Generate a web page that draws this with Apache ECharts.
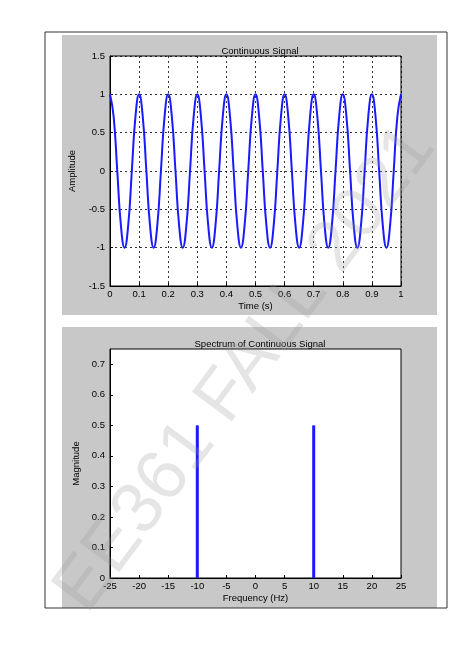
<!DOCTYPE html>
<html><head><meta charset="utf-8">
<script src="https://cdn.jsdelivr.net/npm/echarts@6/dist/echarts.min.js"></script>
<style>html,body{margin:0;padding:0;background:#fff}#c{width:474px;height:655px}</style>
</head><body><div id="c"></div>
<script>
// 时间 0..1 s，步长 0.0125 s
var timeStep = 0.0125;
var amplitude = [
 1,0.71,0,-0.71,-1,-0.71,0,0.71, 1,0.71,0,-0.71,-1,-0.71,0,0.71,
 1,0.71,0,-0.71,-1,-0.71,0,0.71, 1,0.71,0,-0.71,-1,-0.71,0,0.71,
 1,0.71,0,-0.71,-1,-0.71,0,0.71, 1,0.71,0,-0.71,-1,-0.71,0,0.71,
 1,0.71,0,-0.71,-1,-0.71,0,0.71, 1,0.71,0,-0.71,-1,-0.71,0,0.71,
 1,0.71,0,-0.71,-1,-0.71,0,0.71, 1,0.71,0,-0.71,-1,-0.71,0,0.71,
 1
];
var specFreq = [-10, 10];
var specMag = [0.5, 0.5];

var timeData = amplitude.map(function (v, i) { return [+(i * timeStep).toFixed(4), v]; });
var specData = specFreq.map(function (f, i) { return [f, specMag[i]]; });

var chart = echarts.init(document.getElementById('c'));
var axisTxt = {color: '#000', fontSize: 9.5, fontFamily: 'Liberation Sans'};
var nameTxt = {color: '#000', fontSize: 9.5, fontFamily: 'Liberation Sans'};
var gridLine = {show: true, lineStyle: {color: '#000', type: [2, 3], width: 0.8}};
chart.setOption({
  animation: false,
  graphic: [
    {type: 'rect', shape: {x: 45, y: 32, width: 402, height: 576}, style: {fill: 'none', stroke: '#333', lineWidth: 1}},
    {type: 'rect', z: -10, shape: {x: 62, y: 35, width: 375, height: 280}, style: {fill: '#c8c8c8'}},
    {type: 'rect', z: -10, shape: {x: 62, y: 327, width: 375, height: 281}, style: {fill: '#c8c8c8'}},
    {type: 'text', z: 100, x: 100, y: 625, rotation: 0.93, originX: 0, originY: 0,
      style: {text: 'EE361 FALL 2021', font: '72px "Liberation Sans"', fill: 'rgba(150,150,150,0.25)', textVerticalAlign: 'bottom'}}
  ],
  title: [
    {text: 'Continuous Signal', left: 255, top: 41, textAlign: 'center', textStyle: {fontSize: 9.5, fontWeight: 'normal', color: '#000', fontFamily: 'Liberation Sans'}},
    {text: 'Spectrum of Continuous Signal', left: 255, top: 334, textAlign: 'center', textStyle: {fontSize: 9.5, fontWeight: 'normal', color: '#000', fontFamily: 'Liberation Sans'}}
  ],
  grid: [
    {left: 110, top: 56, width: 291, height: 230, show: true, backgroundColor: '#fff', borderColor: '#000', borderWidth: 1},
    {left: 110, top: 349, width: 291, height: 229, show: true, backgroundColor: '#fff', borderColor: '#000', borderWidth: 1}
  ],
  xAxis: [
    {gridIndex: 0, type: 'value', min: 0, max: 1, interval: 0.1, name: 'Time (s)', nameLocation: 'middle', nameGap: 15, nameTextStyle: nameTxt,
     axisLabel: Object.assign({margin: 3}, axisTxt), axisTick: {inside: true, length: 3}, axisLine: {onZero: false, lineStyle: {color: '#000'}}, splitLine: gridLine},
    {gridIndex: 1, type: 'value', min: -25, max: 25, interval: 5, name: 'Frequency (Hz)', nameLocation: 'middle', nameGap: 15, nameTextStyle: nameTxt,
     axisLabel: Object.assign({margin: 3}, axisTxt), axisTick: {inside: true, length: 3}, axisLine: {onZero: false, lineStyle: {color: '#000'}}, splitLine: {show: false}}
  ],
  yAxis: [
    {gridIndex: 0, type: 'value', min: -1.5, max: 1.5, interval: 0.5, name: 'Amplitude', nameLocation: 'middle', nameGap: 26, nameTextStyle: nameTxt,
     axisLabel: Object.assign({margin: 5}, axisTxt), axisTick: {show: true, inside: true, length: 3}, axisLine: {show: true, onZero: false, lineStyle: {color: '#000'}}, splitLine: gridLine},
    {gridIndex: 1, type: 'value', min: 0, max: 0.75, interval: 0.1, name: 'Magnitude', nameLocation: 'middle', nameGap: 26, nameTextStyle: nameTxt,
     axisLabel: Object.assign({margin: 5, showMaxLabel: false}, axisTxt), axisTick: {show: true, inside: true, length: 3}, axisLine: {show: true, onZero: false, lineStyle: {color: '#000'}}, splitLine: {show: false}}
  ],
  series: [
    {type: 'line', xAxisIndex: 0, yAxisIndex: 0, data: timeData, smooth: 0.5, showSymbol: false, lineStyle: {color: '#1a1aff', width: 2}},
    {type: 'bar', xAxisIndex: 1, yAxisIndex: 1, data: specData, barWidth: 3, itemStyle: {color: '#1a1aff'}}
  ]
});
</script></body></html>
